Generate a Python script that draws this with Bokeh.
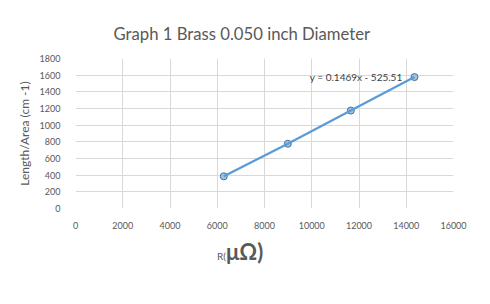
from bokeh.plotting import figure
from bokeh.layouts import column
from bokeh.models import Label, Range1d, FixedTicker, ColumnDataSource, Title, Div
from bokeh.embed import file_html
from bokeh.resources import INLINE

resistance = [6277, 8986, 11653, 14349]
length_area = [386, 777, 1175, 1577]
x_ticks = [0, 2000, 4000, 6000, 8000, 10000, 12000, 14000, 16000]
y_ticks = [0, 200, 400, 600, 800, 1000, 1200, 1400, 1600, 1800]
title_text = "Graph 1 Brass 0.050 inch Diameter"
equation = "y = 0.1469x - 525.51"
x_label_small = "R("
x_label_big = "μΩ)"

FONT = "Lato"
GRAY = "#595959"

p = figure(width=490, height=240, output_backend="svg", toolbar_location=None,
           x_range=Range1d(0, 16000), y_range=Range1d(0, 1800),
           min_border_left=75, min_border_right=37, min_border_top=58, min_border_bottom=32)
p.outline_line_color = None
p.background_fill_color = "white"
p.border_fill_color = "white"

p.add_layout(Title(text=title_text, text_font=FONT, text_font_size="16.7px", text_color=GRAY,
                   text_font_style="normal", align="left", offset=38, standoff=30), "above")

for ax in (p.xaxis[0], p.yaxis[0]):
    ax.axis_line_color = None
    ax.major_tick_line_color = None
    ax.minor_tick_line_color = None
    ax.major_label_text_font = FONT
    ax.major_label_text_font_size = "9px"
    ax.major_label_text_color = GRAY
p.xaxis.ticker = FixedTicker(ticks=x_ticks)
p.yaxis.ticker = FixedTicker(ticks=y_ticks)
p.xaxis.major_label_standoff = 7
p.yaxis.major_label_standoff = 9
p.yaxis.axis_label = "Length/Area (cm -1)"
p.yaxis.axis_label_text_font = FONT
p.yaxis.axis_label_text_font_size = "12px"
p.yaxis.axis_label_text_font_style = "normal"
p.yaxis.axis_label_text_color = GRAY
p.yaxis.axis_label_standoff = 5

p.xgrid.ticker = FixedTicker(ticks=x_ticks)
p.ygrid.ticker = FixedTicker(ticks=y_ticks)
p.grid.grid_line_color = "#D9D9D9"
p.grid.grid_line_width = 1

src = ColumnDataSource(dict(x=resistance, y=length_area))
p.scatter("x", "y", source=src, size=7, fill_color="#9DC3E6", line_color="#41719C", line_width=1)
p.line("x", "y", source=src, line_color="#5B9BD5", line_width=2.2)

p.add_layout(Label(x=13840, y=1577, text=equation, text_font=FONT, text_font_size="10px",
                   text_color="#404040", text_align="right", text_baseline="middle"))

xlabel = Div(
    text=(f'<div style="position:absolute; left:217px; top:-4px; white-space:nowrap; '
          f'font-family:Lato; color:{GRAY};">'
          f'<span style="font-size:10px;">{x_label_small}</span>'
          f'<span style="font-size:22px; font-weight:bold;">{x_label_big}</span></div>'),
    width=490, height=64, margin=0, styles={"background-color": "white"})

layout = column(p, xlabel, spacing=0)
open("out.html", "w").write(file_html(layout, INLINE))
